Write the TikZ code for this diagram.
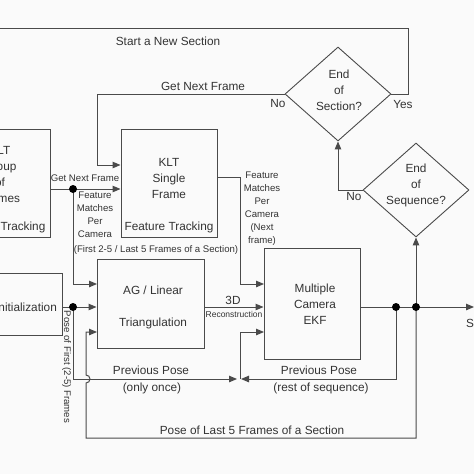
\documentclass[tikz,border=0pt]{standalone}
\usepackage{fontspec}
\setmainfont{Liberation Sans}
\usepackage{tikz}
\usetikzlibrary{shapes,arrows.meta,positioning,calc}

\definecolor{linegray}{HTML}{4A4A4A}
\definecolor{textgray}{HTML}{333333}
\definecolor{bggray}{HTML}{FAFAFA}

\tikzset{
  box/.style={draw=linegray, line width=1pt, inner sep=0pt},
  decision/.style={diamond, draw=linegray, line width=0.9pt, inner sep=0pt, minimum width=106pt, minimum height=94pt},
  txt/.style={text=textgray, font=\fontsize{11.8}{16}\selectfont, align=center, inner sep=0pt},
  smalltxt/.style={text=textgray, font=\fontsize{9.6}{13}\selectfont, align=center, inner sep=0pt},
  tinytxt/.style={text=textgray, font=\fontsize{8.5}{10}\selectfont, inner sep=0pt},
  dot/.style={circle, fill=black, inner sep=0pt, minimum size=8pt},
  conn/.style={draw=linegray, line width=1pt},
  arr/.style={conn, -{Triangle[length=8pt,width=6.5pt]}},
}

\begin{document}
\begin{tikzpicture}[x=1pt, y=-1pt]
    \useasboundingbox (0,0) rectangle (474,474);
    \clip (0,0) rectangle (474,474);
    \fill[bggray] (0,0) rectangle (474,474);

    % blocks
    \node[box, minimum width=100pt, minimum height=108pt] (kltg) at (0,183) {};
    \node[box, minimum width=96pt, minimum height=108pt] (klts) at (169,183) {};
    \node[box, minimum width=72pt, minimum height=62pt] (init) at (26,304) {};
    \node[box, minimum width=107pt, minimum height=89pt] (agl) at (150.5,303.5) {};
    \node[box, minimum width=96pt, minimum height=111pt] (ekf) at (312,303.5) {};
    \node[decision] (eosec) at (338,94) {};
    \node[decision] (eoseq) at (416,190) {};

    \node[txt] (kltg-t) at (0,174) {KLT\\Group\\of\\Frames};
    \node[txt] (kltg-b) at (1,227) {Feature Tracking};
    \node[txt] (klts-t) at (169,178) {KLT\\Single\\Frame};
    \node[txt] (klts-b) at (169,227) {Feature Tracking};
    \node[txt] (init-t) at (26,307) {Initialization};
    \node[txt] (agl-t) at (153,307) {AG / Linear\\[16pt]Triangulation};
    \node[txt] (ekf-t) at (315,304) {Multiple\\Camera\\EKF};
    \node[txt] (eosec-t) at (339,90.5) {End\\of\\Section?};
    \node[txt] (eoseq-t) at (416,185.5) {End\\of\\Sequence?};

    % junctions and bends
    \coordinate (d1) at (73,189);
    \coordinate (d2) at (73,307);
    \coordinate (d3) at (396,307);
    \coordinate (d4) at (416,307);
    \coordinate (newsec) at (-60,28);
    \coordinate (loop) at (408,28);
    \coordinate (gnf) at (97,165);
    \coordinate (fmn) at (240,177);
    \coordinate (ag1) at (97,284);
    \coordinate (ag3) at (97,332);
    \coordinate (ek1) at (264,284);
    \coordinate (ek3) at (264,332);
    \coordinate (ppl) at (237,379);
    \coordinate (ppr) at (241,379);
    \coordinate (ppj) at (240,379);
    \coordinate (last) at (86,438);
    \coordinate (state) at (474,307);

    % connectors
    \draw[conn] (eosec.east) -| (loop) -- (newsec);
    \draw[arr] (eosec.west) -| (gnf) -- (gnf -| klts.west);
    \draw[arr] (kltg.east |- d1) -- (klts.west |- d1);
    \draw[arr] (d1) |- (ag1);
    \draw[arr] (init.east |- d2) -- (agl.west |- d2);
    \draw[arr] (d2) |- (ppl);
    \draw[arr] (klts.east |- fmn) -- (fmn) |- (ek1);
    \draw[arr] (agl.east |- d2) -- (ekf.west |- d2);
    \draw[arr] (ppj) |- (ek3);
    \draw[arr] (ekf.east |- d3) -- (state);
    \draw[arr] (d3) |- (ppr);
    \draw[arr] (d4) |- (last) -- (86,383) arc[start angle=-90, end angle=90, radius=4pt] -- (86,332) -- (ag3);
    \draw[arr] (d4) -- (eoseq.south);
    \draw[arr] (eoseq.west) -| (eosec.south);

    \node[dot] (d1-dot) at (d1) {};
    \node[dot] (d2-dot) at (d2) {};
    \node[dot] (d3-dot) at (d3) {};
    \node[dot] (d4-dot) at (d4) {};

    % labels
    \node[txt] (newsec-l) at (168,41) {Start a New Section};
    \node[txt] (gnf-l) at (203,86) {Get Next Frame};
    \node[txt] (no1-l) at (278,103) {No};
    \node[txt] (yes1-l) at (403,104) {Yes};
    \node[txt] (no2-l) at (354,196) {No};
    \node[smalltxt] (gnf2-l) at (85,178) {Get Next Frame};
    \node[smalltxt] (fm1-l) at (95,214.5) {Feature\\Matches\\Per\\Camera};
    \node[smalltxt] (sect-l) at (156,250) {(First 2-5 / Last 5 Frames of a Section)};
    \node[smalltxt] (fm2-l) at (262,208.5) {Feature\\Matches\\Per\\Camera\\(Next\\frame)};
    \node[txt] (rec-l) at (233,300) {3D};
    \node[tinytxt] (rec2-l) at (234,314) {Reconstruction};
    \node[smalltxt, rotate=-90] (first-l) at (66.5,367) {Pose of First (2-5) Frames};
    \node[txt] (pp1-l) at (151,370) {Previous Pose};
    \node[txt] (once-l) at (152,388) {(only once)};
    \node[txt] (pp2-l) at (319,370) {Previous Pose};
    \node[txt] (rest-l) at (321,388) {(rest of sequence)};
    \node[txt] (last-l) at (252,430) {Pose of Last 5 Frames of a Section};
    \node[txt, anchor=west] (state-l) at (466,323) {State};
\end{tikzpicture}
\end{document}
